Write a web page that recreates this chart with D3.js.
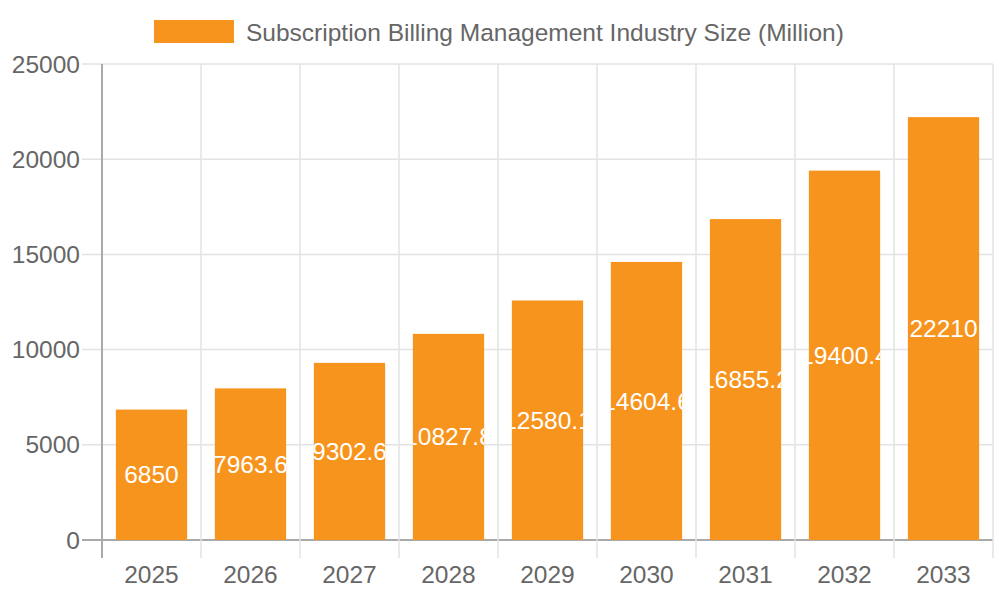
<!DOCTYPE html>
<html>
<head>
<meta charset="utf-8">
<script src="https://cdn.jsdelivr.net/npm/d3@7"></script>
<style>
  body { margin: 0; background: #fff; }
  text { font-family: "Liberation Sans", Arial, sans-serif; }
</style>
</head>
<body>
<div id="chart"></div>
<script>
// data
const years = ["2025", "2026", "2027", "2028", "2029", "2030", "2031", "2032", "2033"];
const sizes = [6850, 7963.6, 9302.6, 10827.8, 12580.1, 14604.6, 16855.2, 19400.4, 22210];
const yTicks = [0, 5000, 10000, 15000, 20000, 25000];
const seriesName = "Subscription Billing Management Industry Size (Million)";

const outerWidth = 1000, outerHeight = 600;
const margin = {top: 64, right: 7, bottom: 60, left: 102};
const width = outerWidth - margin.left - margin.right;
const height = outerHeight - margin.top - margin.bottom;
const barColor = "#f7941d";
const fontSize = 24.5;

const svg = d3.select("#chart").append("svg")
  .attr("width", outerWidth)
  .attr("height", outerHeight);

const g = svg.append("g")
  .attr("transform", `translate(${margin.left},${margin.top})`);

const xScale = d3.scaleBand().domain(years).range([0, width]);
const yScale = d3.scaleLinear().domain([0, 25000]).range([height, 0]);

// horizontal grid
g.selectAll(".hgrid").data(yTicks).enter().append("line")
  .attr("x1", -20).attr("x2", width)
  .attr("y1", d => yScale(d)).attr("y2", d => yScale(d))
  .attr("stroke", d => d === 0 ? "#aaa" : "#e3e3e3")
  .attr("stroke-width", d => d === 0 ? 2 : 1.5);

// vertical grid at category boundaries
const bounds = years.map(d => xScale(d)).concat([width]);
g.selectAll(".vgrid").data(bounds).enter().append("line")
  .attr("x1", d => d).attr("x2", d => d)
  .attr("y1", 0).attr("y2", height + 18)
  .attr("stroke", (d, i) => i === 0 ? "#aaa" : "#e3e3e3")
  .attr("stroke-width", (d, i) => i === 0 ? 2 : 1.5);

// y labels
g.selectAll(".ylab").data(yTicks).enter().append("text")
  .attr("x", -22).attr("y", d => yScale(d))
  .attr("dy", "0.35em")
  .attr("text-anchor", "end")
  .attr("font-size", fontSize)
  .attr("fill", "#666")
  .text(d => d);

// x labels
g.selectAll(".xlab").data(years).enter().append("text")
  .attr("x", d => xScale(d) + xScale.bandwidth() / 2)
  .attr("y", height + 34)
  .attr("dy", "0.35em")
  .attr("text-anchor", "middle")
  .attr("font-size", fontSize)
  .attr("fill", "#666")
  .text(d => d);

const barW = xScale.bandwidth() * 0.72;
const data = years.map((y, i) => ({year: y, value: sizes[i]}));

const defs = svg.append("defs");
defs.selectAll("clipPath").data(data).enter().append("clipPath")
  .attr("id", (d, i) => "clip" + i)
  .append("rect")
  .attr("x", d => xScale(d.year) + (xScale.bandwidth() - barW) / 2)
  .attr("y", d => yScale(d.value))
  .attr("width", barW)
  .attr("height", d => height - yScale(d.value));

const bars = g.selectAll(".bar").data(data).enter().append("g");

bars.append("rect")
  .attr("x", d => xScale(d.year) + (xScale.bandwidth() - barW) / 2)
  .attr("y", d => yScale(d.value))
  .attr("width", barW)
  .attr("height", d => height - yScale(d.value))
  .attr("fill", barColor);

bars.append("text")
  .attr("clip-path", (d, i) => `url(#clip${i})`)
  .attr("x", d => xScale(d.year) + xScale.bandwidth() / 2)
  .attr("y", d => (yScale(d.value) + height) / 2)
  .attr("dy", "0.35em")
  .attr("text-anchor", "middle")
  .attr("font-size", fontSize)
  .attr("fill", "#fff")
  .text(d => d.value);

// legend
const legend = svg.append("g");
legend.append("rect")
  .attr("x", 154).attr("y", 20)
  .attr("width", 80).attr("height", 23)
  .attr("fill", barColor);
legend.append("text")
  .attr("x", 246).attr("y", 32)
  .attr("dy", "0.35em")
  .attr("font-size", fontSize)
  .attr("fill", "#666")
  .text(seriesName);
</script>
</body>
</html>
